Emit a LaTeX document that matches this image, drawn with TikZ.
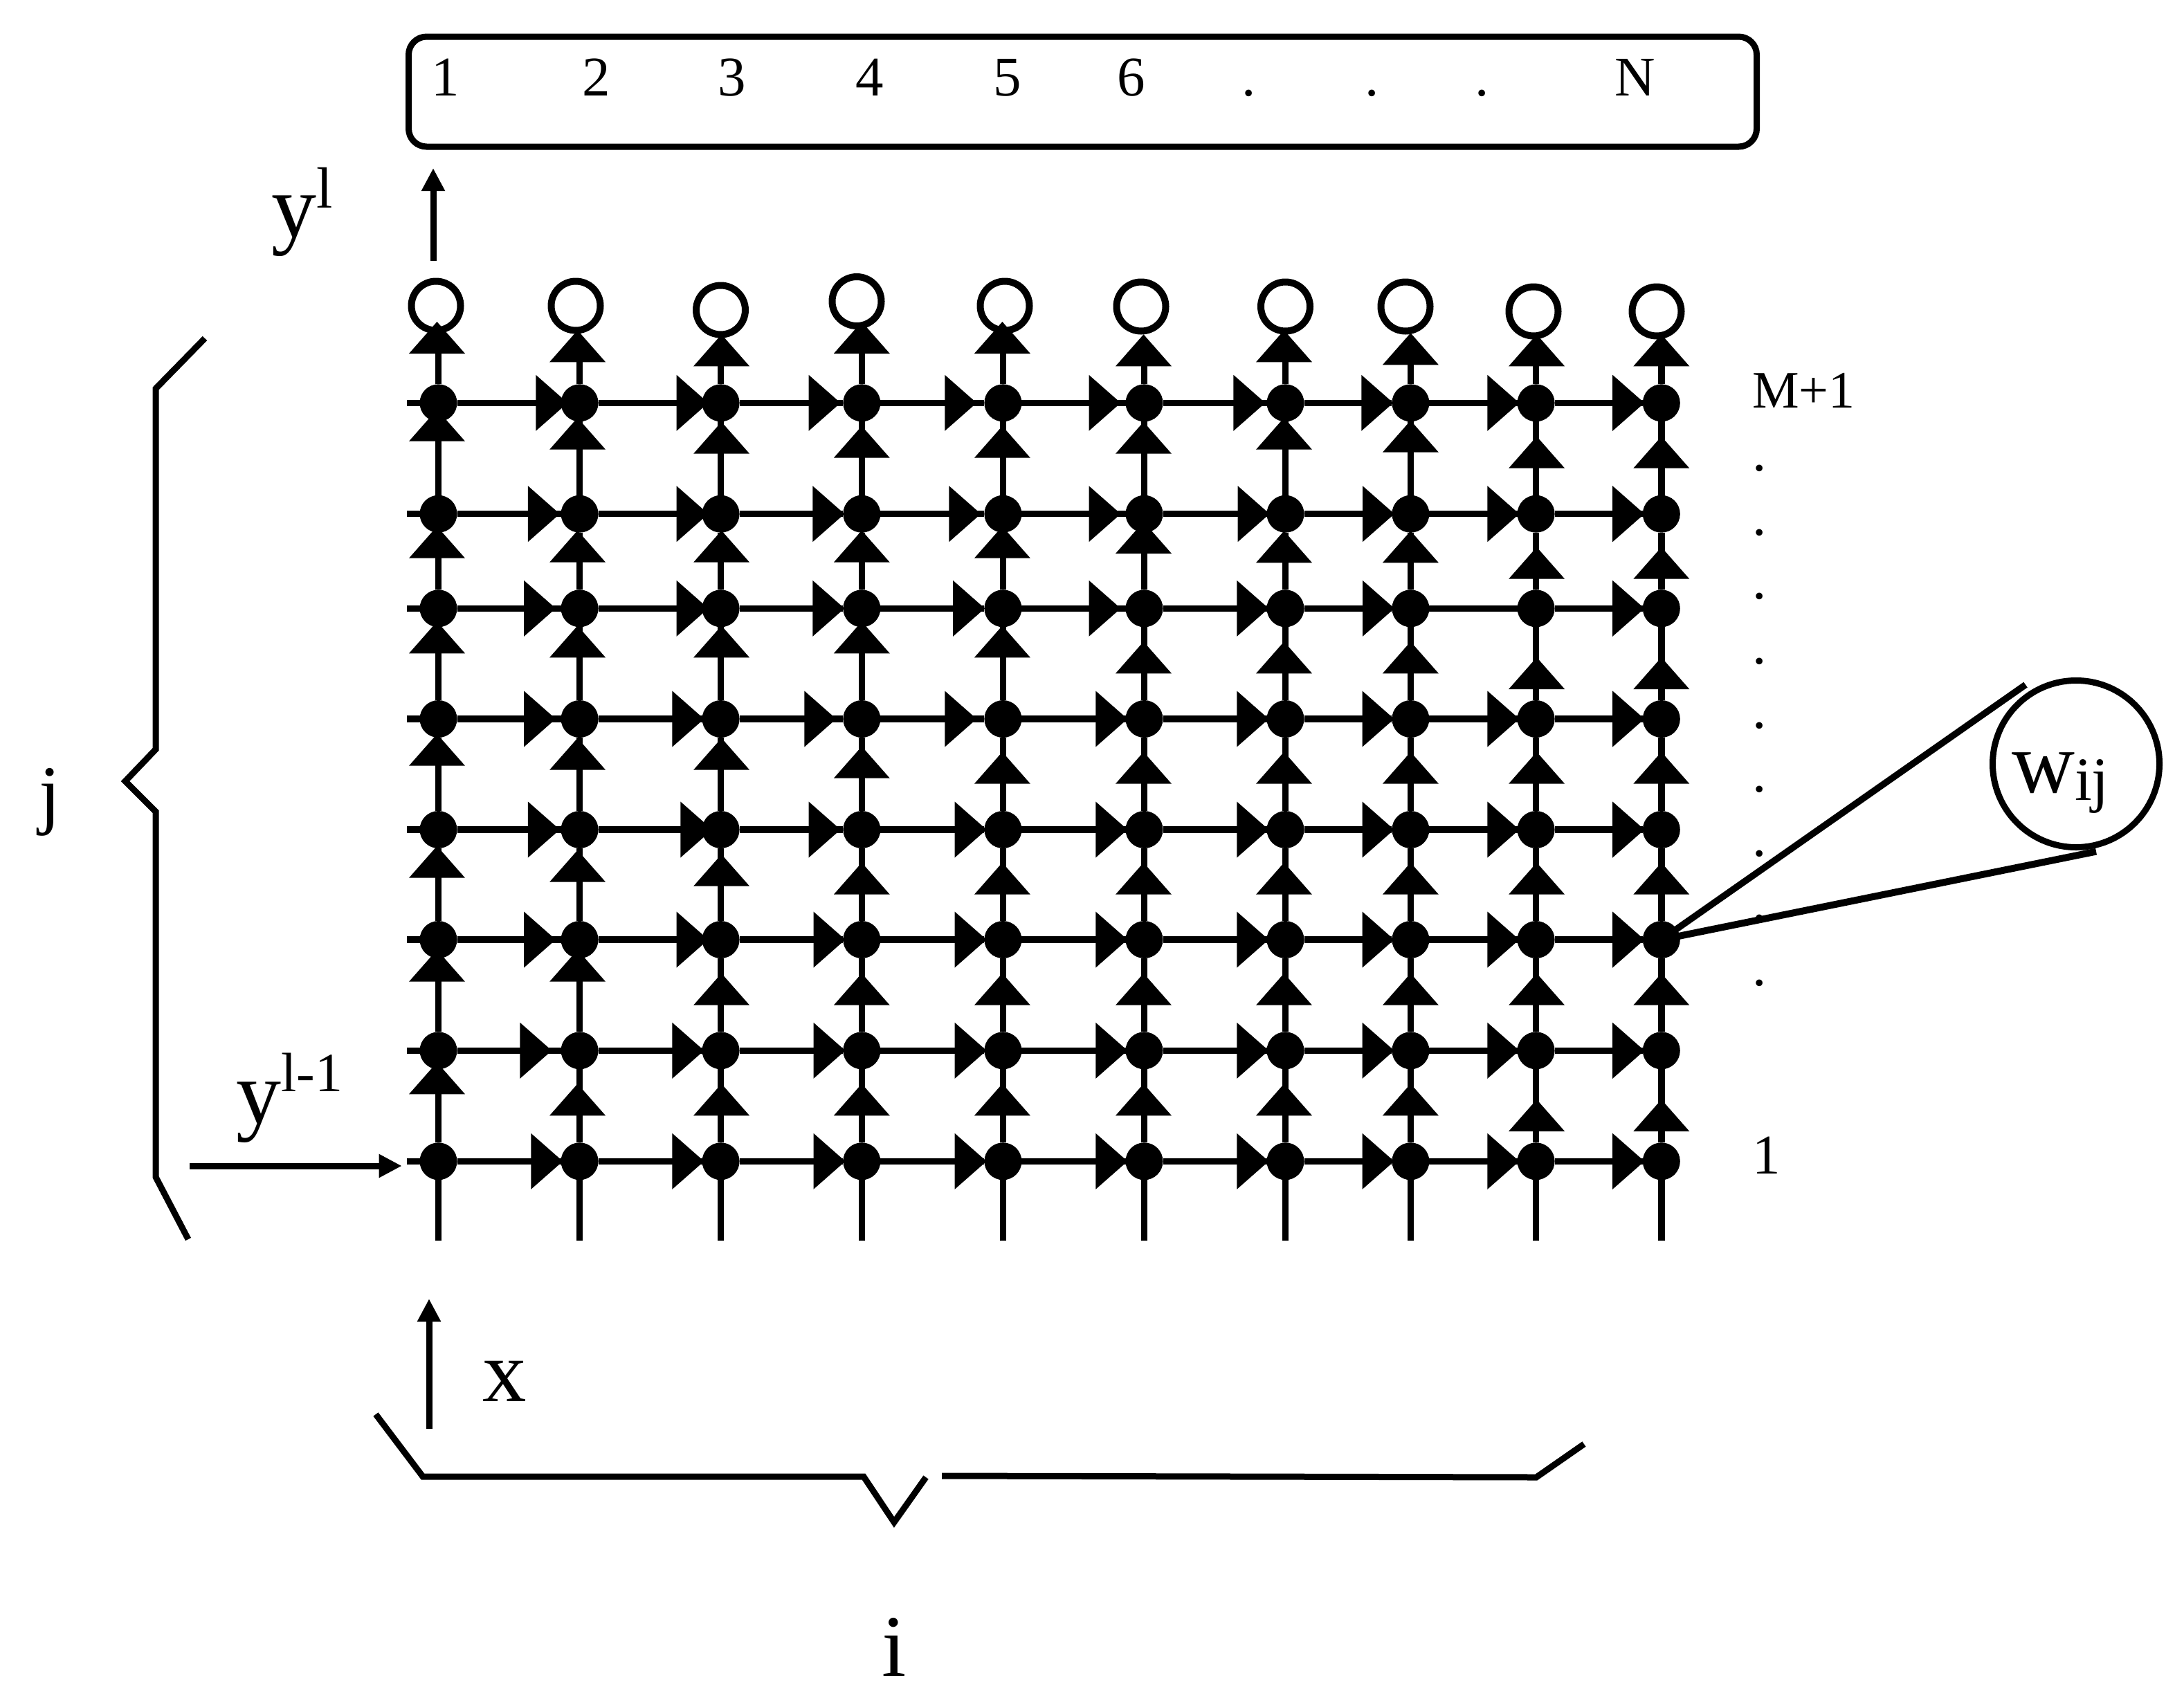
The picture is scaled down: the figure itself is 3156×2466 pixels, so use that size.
\documentclass[tikz,border=0pt]{standalone}
\usepackage{fontspec}
\setmainfont{Liberation Serif}
\usetikzlibrary{arrows.meta}
\newcommand{\fsz}[1]{\fontsize{#1}{#1}\selectfont}
\newcommand{\colxat}[1]{\pgfmathsetmacro{\cx}{{633.5,837.6,1041.6,1245.3,1449.4,1653.5,1857.5,2038.4,2219.6,2400.8}[#1-1]}}
\newcommand{\colshift}[1]{\pgfmathsetmacro{\cs}{{-2,-3,1,0,-1,-1,-2,0,1,0}[#1-1]}}
\newcommand{\rowyat}[1]{\pgfmathsetmacro{\ry}{{582.3,742.7,879.3,1039,1199,1358,1518.3,1678.3}[#1-1]}}
% horizontal arrowheads of a row: #1 row, #2 base x of the nine gaps (0 = none)
\newcommand{\hheads}[2]{%
  \rowyat{#1}%
  \foreach \b in {#2} {%
    \ifdim\b pt>0pt
      \fill (\b,\ry-40.5) -- (\b+46,\ry) -- (\b,\ry+40.5) -- cycle;
    \fi
  }%
}
% vertical arrowheads: #2 base y per column
\newcommand{\vheads}[1]{%
  \foreach \b [count=\c] in {#1} {%
    \colxat{\c}\colshift{\c}%
    \fill (\cx+\cs-40.5,\b) -- (\cx+\cs+40.5,\b) -- (\cx+\cs,\b-46) -- cycle;
  }%
}
\tikzset{
  junction/.style={circle,fill=black,minimum size=54pt,inner sep=0pt,outer sep=0pt},
  outcircle/.style={circle,draw=black,line width=10pt,minimum size=71pt,inner sep=0pt,outer sep=0pt},
  wire/.style={line width=9.5pt,draw=black},
  bracepath/.style={line width=9pt,draw=black,miter limit=10},
  flow/.style={line width=9pt,draw=black,-{Triangle[length=33pt,width=32pt]}},
  lbl/.style={inner sep=0pt,outer sep=0pt,anchor=base},
  lblw/.style={inner sep=0pt,outer sep=0pt,anchor=base west}
}
\begin{document}
\begin{tikzpicture}[x=1pt,y=-1pt]
\useasboundingbox (0,0) rectangle (3156,2466);
% output register
\node[draw=black,line width=9pt,rounded corners=26pt,minimum width=1948pt,minimum height=159pt,inner sep=0pt,outer sep=0pt] (reg) at (1564.5,132.5) {};
\node[lbl] (d1) at (643.5,138.8) {\fsz{81}1};
\node[lbl] (d2) at (861.6,138.8) {\fsz{81}2};
\node[lbl] (d3) at (1058,138.8) {\fsz{81}3};
\node[lbl] (d4) at (1257,138.8) {\fsz{81}4};
\node[lbl] (d5) at (1456,138.8) {\fsz{81}5};
\node[lbl] (d6) at (1635,138.8) {\fsz{81}6};
\node[lbl] (d7) at (1805,138.8) {\fsz{81}.};
\node[lbl] (d8) at (1983,138.8) {\fsz{81}.};
\node[lbl] (d9) at (2142,138.8) {\fsz{81}.};
\node[lbl] (dN) at (2363,138.8) {\fsz{81}N};
% junctions
\foreach \r in {1,...,8} {
  \rowyat{\r}
  \foreach \c in {1,...,10} {
    \colxat{\c}
    \node[junction] (n\r-\c) at (\cx,\ry) {};
  }
  \coordinate (stub\r) at (588,\ry);
}
% output circles
\foreach \c/\ox/\oy in {1/630/442,2/832/442,3/1041.5/448,4/1238/435.5,5/1452/442,6/1649/443,7/1857.5/443,8/2031/443,9/2216/450,10/2394/450} {
  \node[outcircle] (out\c) at (\ox,\oy) {};
}
% wires
\foreach \r in {1,...,8} {
  \draw[wire] (stub\r) -- (n\r-1);
  \foreach \c [evaluate=\c as \d using int(\c+1)] in {1,...,9} {
    \draw[wire] (n\r-\c) -- (n\r-\d);
  }
}
\foreach \c/\ty in {1/511,2/523.3,3/529.3,4/511,5/511,6/529.3,7/523.3,8/527.3,9/529.3,10/529.3} {
  \colxat{\c}
  \coordinate (bot\c) at (\cx,1792.7);
  \coordinate (top\c) at (\cx,\ty);
  \draw[wire] (bot\c) -- (n8-\c);
  \draw[wire] (n1-\c) -- (top\c);
  \foreach \r [evaluate=\r as \s using int(\r+1)] in {1,...,7} {
    \draw[wire] (n\s-\c) -- (n\r-\c);
  }
}
% horizontal arrowheads
\hheads{1}{774.3,977.6,1168.6,1365.3,1573.5,1782.4,1967.3,2149.4,2330.2}
\hheads{2}{762.9,977.6,1174.3,1371.4,1573.5,1788.6,1969,2149.4,2330.2}
\hheads{3}{757.1,977.6,1174.3,1377.1,1573.5,1787.3,1969,0,2330.2}
\hheads{4}{757.1,971.4,1162.4,1365.3,1583.3,1787.3,1968.6,2149.4,2330.2}
\hheads{5}{762.9,983.3,1168.6,1379.6,1583.3,1787.3,1968.6,2149.4,2330.2}
\hheads{6}{757.1,977.6,1175.5,1379.6,1583.3,1787.3,1968.6,2149.4,2330.2}
\hheads{7}{751.4,971.4,1175.5,1379.6,1583.3,1787.3,1968.6,2149.4,2330.2}
\hheads{8}{767.3,971.4,1175.5,1379.6,1583.3,1787.3,1968.6,2149.4,2330.2}
% vertical arrowheads
\vheads{511,523.3,529.3,511,511,529.3,523.3,527.3,529.3,529.3}
\vheads{637.7,649.7,655.7,661.7,661.7,655.7,649.7,653.7,676.7,676.7}
\vheads{806.7,812.7,812.7,812.7,806.7,800,813.3,813.3,836.7,836.7}
\vheads{944.3,950.3,950.3,944.3,950.3,973.3,973.3,973.3,996,996}
\vheads{1106.7,1112.7,1112.7,1124.7,1132.7,1132.7,1132.7,1132.7,1132.7,1132.7}
\vheads{1268.7,1274.7,1280.7,1292.7,1292.7,1292.7,1292.7,1292.7,1292.7,1292.7}
\vheads{1418.7,1418.7,1452.7,1452.7,1452.7,1452.7,1452.7,1452.7,1452.7,1452.7}
\vheads{1581.3,1612.3,1612.3,1612.3,1612.3,1612.3,1612.3,1612.3,1635,1635}
% flows
\coordinate (yla) at (626,376.5);
\coordinate (ylb) at (626,243);
\draw[flow] (yla) -- (ylb);
\coordinate (ypa) at (274,1685);
\coordinate (ypb) at (580.7,1685);
\draw[flow] (ypa) -- (ypb);
\coordinate (xa) at (620,2064.5);
\coordinate (xb) at (620,1877);
\draw[flow] (xa) -- (xb);
% labels
\node[lblw] (yl) at (392,342) {\fsz{130}y\raisebox{42pt}{\fsz{84}l}};
\node[lblw] (ylm) at (341.6,1623) {\fsz{130}y\raisebox{46pt}{\fsz{80}l-1}};
\node[lbl] (xl) at (729,2025) {\fsz{127}x};
\node[lbl] (jl) at (72,1184) {\fsz{112}j};
\node[lbl] (il) at (1292,2422) {\fsz{127}i};
\node[lblw] (m1) at (2532,589) {\fsz{76}M+1};
\node[lbl] (one) at (2552.7,1696) {\fsz{81}1};
\foreach \k/\dy in {1/676,2/769,3/861,4/955,5/1048,6/1140,7/1233,8/1326,9/1420} {
  \node[lbl] (dot\k) at (2542.4,\dy+4.5) {\fsz{81}.};
}
% braces
\draw[bracepath] (296,489) -- (225,561.6) -- (225,1083) -- (181,1129) -- (225,1173) -- (225,1701) -- (272,1791);
\draw[bracepath] (543,2044) -- (611,2134) -- (1248,2134) -- (1292,2200) -- (1338,2135);
\draw[bracepath] (1361,2133) -- (2220,2135) -- (2289,2087);
% weight callout
\node[circle,draw=black,line width=9pt,minimum size=241pt,inner sep=0pt,outer sep=0pt] (wc) at (3000,1104) {};
\node[lblw] (wl) at (2907,1145.7) {\fsz{126}w\raisebox{-11pt}{\fsz{89}ij}};
\coordinate (wu) at (2927,989.6);
\coordinate (wd) at (3029,1230.6);
\draw[wire] (n6-10.center) -- (wu);
\draw[wire,line width=10pt] (n6-10.center) -- (wd);
\end{tikzpicture}
\end{document}
